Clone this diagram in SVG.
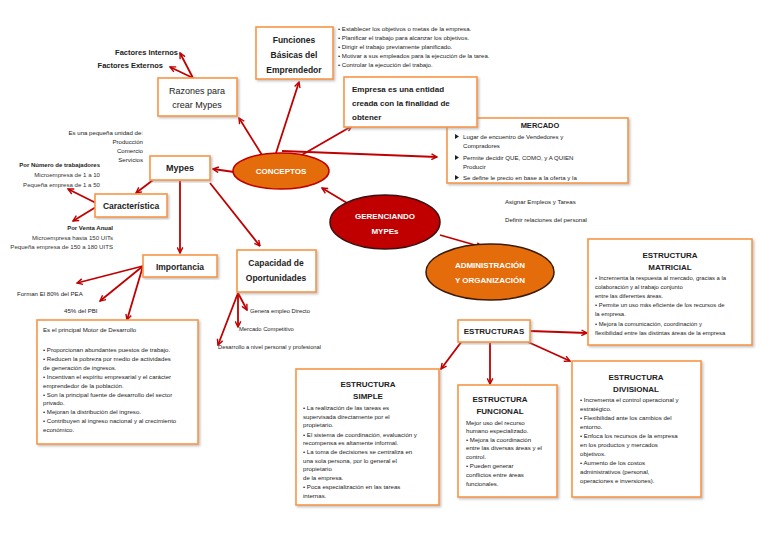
<svg xmlns="http://www.w3.org/2000/svg" width="768" height="543" viewBox="0 0 768 543">
<defs>
<marker id="ah" viewBox="0 0 10 10" refX="9" refY="5" markerWidth="7" markerHeight="7" orient="auto" markerUnits="userSpaceOnUse">
<path d="M1,1 L9,5 L1,9" fill="none" stroke="#C00000" stroke-width="2"/>
</marker>
<filter id="sh" x="-5%" y="-5%" width="115%" height="115%">
<feDropShadow dx="1.5" dy="1.5" stdDeviation="0.8" flood-color="#999" flood-opacity="0.6"/>
</filter>
</defs>
<style>
text{font-family:"Liberation Sans",Arial,sans-serif;fill:#222}
.box{fill:#fff;stroke:#F79646;stroke-width:1.6;filter:url(#sh)}
.lbl{font-size:8.5px;font-weight:bold;text-anchor:middle}
.lbn{font-size:9px;text-anchor:middle}
.sm{font-size:6.1px;fill:#333}
.smb{font-size:6px;font-weight:bold;fill:#222}
.ttl{font-size:8px;font-weight:bold;text-anchor:middle}
.ell{font-size:8px;font-weight:bold;fill:#fff;text-anchor:middle}
.c line,.c path{stroke:#C00000;stroke-width:1.8;fill:none;marker-end:url(#ah)}
.r{text-anchor:end}
</style>
<rect width="768" height="543" fill="#fff"/>

<g class="c" id="connectors">
<line x1="262" y1="155" x2="239" y2="118"/>
<line x1="276" y1="153" x2="299" y2="82"/>
<line x1="300" y1="156" x2="352" y2="126"/>
<line x1="282" y1="151" x2="437" y2="157"/>
<line x1="234" y1="172" x2="213" y2="169"/>
<line x1="210" y1="183" x2="260" y2="246"/>
<line x1="153" y1="180" x2="136" y2="193"/>
<line x1="96" y1="203" x2="68" y2="189"/>
<line x1="96" y1="207" x2="73" y2="221"/>
<line x1="180" y1="181" x2="180" y2="253"/>
<line x1="143" y1="266" x2="77" y2="283"/>
<line x1="143" y1="266" x2="100" y2="301"/>
<line x1="143" y1="266" x2="127" y2="320"/>
<line x1="238" y1="293" x2="247" y2="310"/>
<line x1="238" y1="293" x2="238" y2="327"/>
<line x1="238" y1="293" x2="218" y2="345"/>
<line x1="193" y1="78" x2="180" y2="53"/>
<line x1="193" y1="78" x2="170" y2="67"/>
<line x1="352" y1="206" x2="322" y2="188"/>
<line x1="440" y1="235" x2="482" y2="247"/>
<line x1="530" y1="331" x2="587" y2="333"/>
<line x1="462" y1="341" x2="441" y2="369"/>
<line x1="490" y1="343" x2="490" y2="384"/>
<line x1="528" y1="342" x2="570" y2="361"/>
</g>

<g id="funciones">
<rect class="box" x="256" y="27" width="77" height="52"/>
<text class="lbl" x="294" y="43">Funciones</text>
<text class="lbl" x="294" y="58">Básicas del</text>
<text class="lbl" x="294" y="73">Emprendedor</text>
</g>
<g id="funciones-list" class="sm">
<text x="338" y="31">• Establecer los objetivos o metas de la empresa.</text>
<text x="338" y="40">• Planificar el trabajo para alcanzar los objetivos.</text>
<text x="338" y="49">• Dirigir el trabajo previamente planificado.</text>
<text x="338" y="58">• Motivar a sus empleados para la ejecución de la tarea.</text>
<text x="338" y="67">• Controlar la ejecución del trabajo.</text>
</g>

<g id="mercado">
<rect class="box" x="447" y="118" width="181" height="65"/>
<text class="ttl" x="540" y="128" style="font-size:7.5px">MERCADO</text>
<g class="sm">
<path d="M455,134 L459,136.5 L455,139 Z" fill="#222"/>
<text x="463" y="139">Lugar de encuentro de  Vendedores y</text>
<text x="463" y="148">Compradores</text>
<path d="M455,155 L459,157.5 L455,160 Z" fill="#222"/>
<text x="463" y="160">Permite decidir QUE, COMO, y A QUIEN</text>
<text x="463" y="169">Producir</text>
<path d="M455,175 L459,177.5 L455,180 Z" fill="#222"/>
<text x="463" y="180">Se define le precio en base a la oferta y la</text>
</g>
</g>

<g id="empresa">
<rect class="box" x="344" y="77" width="133" height="50"/>
<text x="352" y="92" style="font-size:8px;font-weight:bold">Empresa es una entidad</text>
<text x="352" y="106" style="font-size:8px;font-weight:bold">creada con la finalidad de</text>
<text x="352" y="120" style="font-size:8px;font-weight:bold">obtener</text>
</g>

<g id="razones">
<rect class="box" x="158" y="78" width="79" height="38"/>
<text class="lbn" x="197" y="94">Razones para</text>
<text class="lbn" x="197" y="108">crear Mypes</text>
</g>
<g id="factores">
<text class="r" x="178" y="55" style="font-size:7.5px;font-weight:bold">Factores Internos</text>
<text class="r" x="163" y="68" style="font-size:7.5px;font-weight:bold">Factores Externos</text>
</g>

<g id="conceptos">
<ellipse cx="281" cy="171" rx="48" ry="18" fill="#E46C0A" stroke="#C00000" stroke-width="1.5"/>
<text class="ell" x="281" y="174">CONCEPTOS</text>
</g>
<g id="gerenciando">
<ellipse cx="385" cy="222" rx="55" ry="27" fill="#C00000" stroke="#3a1010" stroke-width="1.5"/>
<text class="ell" x="385" y="219">GERENCIANDO</text>
<text class="ell" x="385" y="234">MYPEs</text>
</g>
<g id="administracion">
<ellipse cx="490" cy="272" rx="64" ry="28" fill="#E46C0A" stroke="#3a1a05" stroke-width="1.5"/>
<text class="ell" x="490" y="268">ADMINISTRACIÓN</text>
<text class="ell" x="490" y="283">Y ORGANIZACIÓN</text>
</g>

<g id="mypes-def" class="sm">
<text class="r" x="143" y="135">Es una pequeña unidad  de:</text>
<text class="r" x="143" y="144">Producción</text>
<text class="r" x="143" y="153">Comercio</text>
<text class="r" x="143" y="162">Servicios</text>
</g>

<g id="mypes">
<rect class="box" x="150" y="156" width="60" height="24"/>
<text class="lbl" x="180" y="171" style="font-size:9px">Mypes</text>
</g>

<g id="caracteristica">
<rect class="box" x="95" y="194" width="72" height="23"/>
<text class="lbl" x="131" y="209">Característica</text>
</g>
<g id="por-numero">
<text class="smb r" x="100" y="167">Por Número de trabajadores</text>
<text class="sm r" x="100" y="177">Microempresa de 1 a 10</text>
<text class="sm r" x="100" y="187">Pequeña empresa de 1 a 50</text>
</g>
<g id="por-venta">
<text class="smb r" x="113" y="230">Por Venta Anual</text>
<text class="sm r" x="113" y="240">Microempresa hasta 150 UITs</text>
<text class="sm r" x="113" y="249">Pequeña empresa de 150 a 180 UITS</text>
</g>

<g id="importancia">
<rect class="box" x="143" y="255" width="74" height="22"/>
<text class="lbl" x="180" y="270">Importancia</text>
</g>
<g id="importancia-items" class="sm">
<text x="17" y="296">Forman  El 80% del PEA</text>
<text x="64" y="313">45% del PBI</text>
</g>

<g id="motor">
<rect class="box" x="37" y="320" width="161" height="124"/>
<g class="sm">
<text x="43" y="332">Es el principal Motor de Desarrollo</text>
<text x="43" y="352">• Proporcionan abundantes puestos de trabajo.</text>
<text x="43" y="361">• Reducen la pobreza por medio de actividades</text>
<text x="43" y="370">de generación de ingresos.</text>
<text x="43" y="379">• Incentivan el espíritu empresarial y el carácter</text>
<text x="43" y="388">emprendedor de la población.</text>
<text x="43" y="397">• Son la principal fuente de desarrollo del sector</text>
<text x="43" y="405">privado.</text>
<text x="43" y="414">• Mejoran la distribución del ingreso.</text>
<text x="43" y="423">• Contribuyen al ingreso nacional y al crecimiento</text>
<text x="43" y="432">económico.</text>
</g>
</g>

<g id="capacidad">
<rect class="box" x="237" y="250" width="79" height="42"/>
<text class="lbl" x="276" y="266">Capacidad de</text>
<text class="lbl" x="276" y="281">Oportunidades</text>
</g>
<g id="capacidad-items" class="sm" style="font-size:5.8px">
<text x="250" y="313">Genera empleo Directo</text>
<text x="239" y="331">Mercado Competitivo</text>
<text x="218" y="349">Desarrollo a nivel personal y profesional</text>
</g>

<g id="admin-items" class="sm">
<text x="505" y="204">Asignar Empleos y Tareas</text>
<text x="505" y="222">Definir relaciones del personal</text>
</g>

<g id="estructuras">
<rect class="box" x="458" y="320" width="72" height="22"/>
<text class="lbl" x="494" y="334" style="font-size:8px">ESTRUCTURAS</text>
</g>

<g id="matricial">
<rect class="box" x="588" y="239" width="164" height="106"/>
<text class="ttl" x="670" y="258">ESTRUCTURA</text>
<text class="ttl" x="670" y="270">MATRICIAL</text>
<g class="sm" style="font-size:5.9px">
<text x="595" y="280">• Incrementa la respuesta al mercado, gracias a la</text>
<text x="595" y="289">colaboración y al trabajo conjunto</text>
<text x="595" y="298">entre las diferentes áreas.</text>
<text x="595" y="307">• Permite un uso más eficiente de los recursos de</text>
<text x="595" y="316">la empresa.</text>
<text x="595" y="326">• Mejora la comunicación, coordinación y</text>
<text x="595" y="335">flexibilidad entre las distintas áreas de la empresa</text>
</g>
</g>

<g id="simple">
<rect class="box" x="296" y="369" width="143" height="136"/>
<text class="ttl" x="368" y="387">ESTRUCTURA</text>
<text class="ttl" x="368" y="399">SIMPLE</text>
<g class="sm">
<text x="303" y="410">• La realización de las tareas es</text>
<text x="303" y="419">supervisada directamente por el</text>
<text x="303" y="427">propietario.</text>
<text x="303" y="437">• El sistema de coordinación, evaluación y</text>
<text x="303" y="445">recompensa es altamente informal.</text>
<text x="303" y="454">• La toma de decisiones se centraliza en</text>
<text x="303" y="463">una sola persona, por lo general el</text>
<text x="303" y="471">propietario</text>
<text x="303" y="480">de la empresa.</text>
<text x="303" y="489">• Poca especialización en las tareas</text>
<text x="303" y="498">internas.</text>
</g>
</g>

<g id="funcional">
<rect class="box" x="458" y="385" width="99" height="112"/>
<text class="ttl" x="500" y="402">ESTRUCTURA</text>
<text class="ttl" x="500" y="414">FUNCIONAL</text>
<g class="sm">
<text x="466" y="425">Mejor uso del recurso</text>
<text x="466" y="433">humano especializado.</text>
<text x="466" y="442">• Mejora la coordinación</text>
<text x="466" y="450">entre las diversas áreas y el</text>
<text x="466" y="459">control.</text>
<text x="466" y="468">• Pueden generar</text>
<text x="466" y="477">conflictos entre áreas</text>
<text x="466" y="486">funcionales.</text>
</g>
</g>

<g id="divisional">
<rect class="box" x="572" y="361" width="129" height="136"/>
<text class="ttl" x="636" y="380">ESTRUCTURA</text>
<text class="ttl" x="636" y="392">DIVISIONAL</text>
<g class="sm">
<text x="580" y="402">• Incrementa el control operacional y</text>
<text x="580" y="411">estratégico.</text>
<text x="580" y="420">• Flexibilidad ante los cambios del</text>
<text x="580" y="429">entorno.</text>
<text x="580" y="438">• Enfoca los recursos de la empresa</text>
<text x="580" y="447">en los productos y mercados</text>
<text x="580" y="456">objetivos.</text>
<text x="580" y="465">• Aumento de los costos</text>
<text x="580" y="474">administrativos (personal,</text>
<text x="580" y="483">operaciones e inversiones).</text>
</g>
</g>
</svg>
